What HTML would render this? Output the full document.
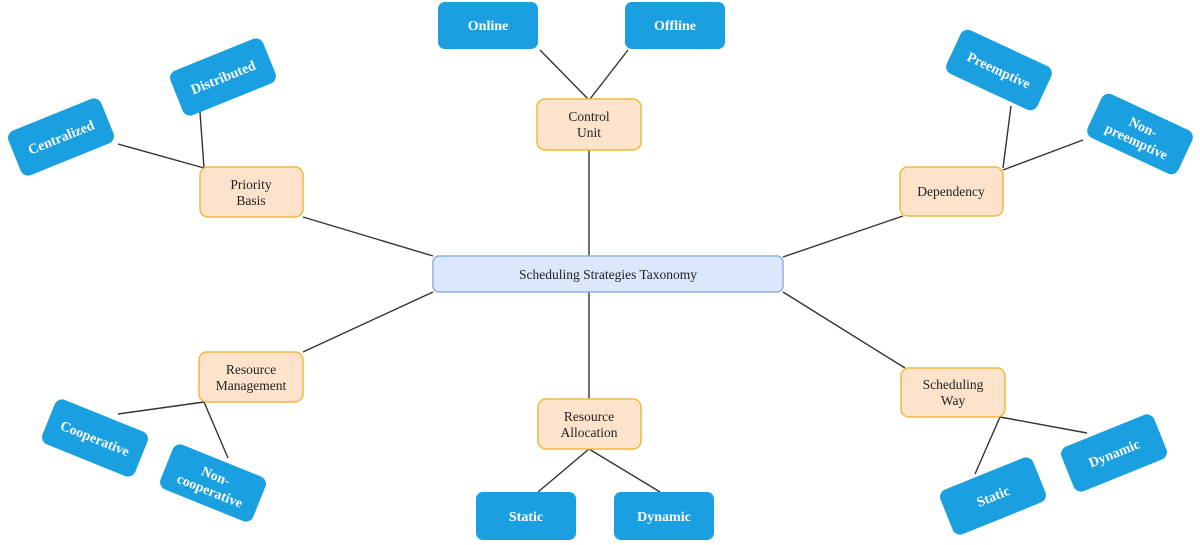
<!DOCTYPE html>
<html><head><style>
html,body{margin:0;padding:0;background:#fff;}
svg{display:block;}
.b{fill:#1a9fe0;}
.p{fill:#fde3cb;stroke:#f0b942;stroke-width:1.5;}
.c{fill:#dbe8fb;stroke:#8fb1dd;stroke-width:1.5;}
text{font-family:"Liberation Serif",serif;text-anchor:middle;}
.w{fill:#fff;font-size:14px;font-weight:bold;}
.k{fill:#222;font-size:13.5px;}
line{stroke:#333;stroke-width:1.4;}
</style></head><body>
<svg width="1200" height="545" viewBox="0 0 1200 545">
<g>
<line x1="540" y1="50" x2="588" y2="99"/><line x1="628" y1="50" x2="590" y2="99"/>
<line x1="589" y1="150" x2="589" y2="256"/>
<line x1="118" y1="144" x2="204" y2="168"/><line x1="200" y1="112" x2="204" y2="168"/>
<line x1="303" y1="217" x2="433" y2="256"/>
<line x1="1011" y1="106" x2="1003" y2="168"/><line x1="1083" y1="140" x2="1003" y2="170"/>
<line x1="903" y1="216" x2="783" y2="257"/>
<line x1="433" y1="292" x2="303" y2="352"/>
<line x1="204" y1="402" x2="118" y2="414"/><line x1="204" y1="402" x2="228" y2="458"/>
<line x1="589" y1="292" x2="589" y2="399"/>
<line x1="589" y1="449" x2="538" y2="492"/><line x1="589" y1="449" x2="660" y2="492"/>
<line x1="783" y1="292" x2="905" y2="368"/>
<line x1="1000" y1="417" x2="975" y2="474"/><line x1="1000" y1="417" x2="1087" y2="433"/>
</g>
<rect class="b" x="438" y="2" width="100" height="47" rx="7"/><text class="w" x="488" y="30">Online</text>
<rect class="b" x="625" y="2" width="100" height="47" rx="7"/><text class="w" x="675" y="30">Offline</text>
<rect class="b" x="476" y="492" width="100" height="48" rx="7"/><text class="w" x="526" y="521">Static</text>
<rect class="b" x="614" y="492" width="100" height="48" rx="7"/><text class="w" x="664" y="521">Dynamic</text>

<g transform="translate(61,137) rotate(-22)"><rect class="b" x="-50" y="-24" width="100" height="48" rx="8"/><text class="w" x="0" y="5">Centralized</text></g>
<g transform="translate(223,77) rotate(-22)"><rect class="b" x="-50" y="-24" width="100" height="48" rx="8"/><text class="w" x="0" y="5">Distributed</text></g>
<g transform="translate(999,70) rotate(25)"><rect class="b" x="-50" y="-24" width="100" height="48" rx="8"/><text class="w" x="0" y="5">Preemptive</text></g>
<g transform="translate(1140,134) rotate(25)"><rect class="b" x="-50" y="-24" width="100" height="48" rx="8"/><text class="w" x="0" y="-3">Non-</text><text class="w" x="0" y="13">preemptive</text></g>
<g transform="translate(95,438) rotate(22)"><rect class="b" x="-50" y="-24" width="100" height="48" rx="8"/><text class="w" x="0" y="5">Cooperative</text></g>
<g transform="translate(213,483) rotate(22)"><rect class="b" x="-50" y="-24" width="100" height="48" rx="8"/><text class="w" x="0" y="-3">Non-</text><text class="w" x="0" y="13">cooperative</text></g>
<g transform="translate(993,496) rotate(-22)"><rect class="b" x="-50" y="-24" width="100" height="48" rx="8"/><text class="w" x="0" y="5">Static</text></g>
<g transform="translate(1114,453) rotate(-22)"><rect class="b" x="-50" y="-24" width="100" height="48" rx="8"/><text class="w" x="0" y="5">Dynamic</text></g>

<rect class="p" x="537" y="99" width="104" height="51" rx="8"/><text class="k" x="589" y="121">Control</text><text class="k" x="589" y="137">Unit</text>
<rect class="p" x="200" y="167" width="103" height="50" rx="8"/><text class="k" x="251" y="189">Priority</text><text class="k" x="251" y="205">Basis</text>
<rect class="p" x="900" y="167" width="103" height="49" rx="8"/><text class="k" x="951" y="196">Dependency</text>
<rect class="p" x="199" y="352" width="104" height="50" rx="8"/><text class="k" x="251" y="374">Resource</text><text class="k" x="251" y="390">Management</text>
<rect class="p" x="538" y="399" width="103" height="50" rx="8"/><text class="k" x="589" y="421">Resource</text><text class="k" x="589" y="437">Allocation</text>
<rect class="p" x="901" y="368" width="104" height="49" rx="8"/><text class="k" x="953" y="389">Scheduling</text><text class="k" x="953" y="405">Way</text>
<rect class="c" x="433" y="256" width="350" height="36" rx="6"/><text class="k" x="608" y="279">Scheduling Strategies Taxonomy</text>
</svg>
</body></html>
